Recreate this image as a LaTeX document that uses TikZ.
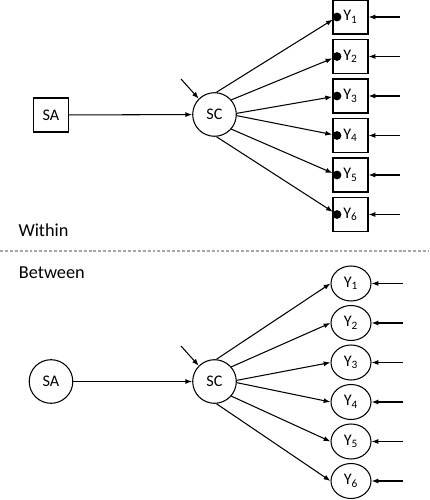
\documentclass[tikz,border=0pt]{standalone}
\usepackage{fontspec}
\setmainfont{Carlito}
\usetikzlibrary{shapes.geometric,arrows.meta,positioning,calc}

\begin{document}
\begin{tikzpicture}[
    line width=0.75pt,
    >={Latex[length=1.7mm,width=1.25mm]},
    obs/.style={draw,rectangle,minimum width=0.875cm,minimum height=0.85cm,inner sep=0pt,font=\fontsize{11.5}{13}\selectfont},
    lat/.style={draw,circle,minimum size=1.09cm,inner sep=0pt,font=\fontsize{11.5}{13}\selectfont},
    ind/.style={draw,ellipse,minimum width=1cm,minimum height=0.875cm,inner sep=0pt,font=\fontsize{11.5}{13}\selectfont},
    dot/.style={circle,fill,inner sep=0pt,minimum size=0.22cm},
    lvl/.style={font=\fontsize{13}{15}\selectfont,anchor=base west,inner sep=0pt}
]
\useasboundingbox (0,0) rectangle (10.725,12.5);

% Within
\node[obs] (saW) at (1.275,9.625) {SA};
\node[lat] (scW) at (5.3625,9.6375) {SC};
\coordinate (dW) at (4.525,10.525);
\draw[->] (saW) -- (scW);
\draw[->] (dW) -- (scW.135);
\foreach \i/\a in {1/85,2/41,3/3,4/-3,5/-41,6/-85} {
    \node[obs] (yW\i) at (8.7625,{12.075-0.9875*(\i-1)}) {Y\textsubscript{\i}};
    \node[dot,anchor=west] (pW\i) at ([xshift=-0.01cm]yW\i.west) {};
    \coordinate (eW\i) at (10,{12.075-0.9875*(\i-1)});
    \draw[->] (scW.\a) -- (pW\i);
    \draw[->] (eW\i) -- (yW\i);
}

% Divider
\draw[gray!70,line width=1pt,dash pattern=on 2.1pt off 1.4pt] (0,6.225) -- (10.725,6.225);
\node[lvl] (within) at (0.45,6.58) {Within};
\node[lvl] (between) at (0.46,5.54) {Between};

% Between
\node[lat] (saB) at (1.275,2.9625) {SA};
\node[lat] (scB) at (5.3625,2.9625) {SC};
\coordinate (dB) at (4.525,3.85);
\draw[->] (saB) -- (scB);
\draw[->] (dB) -- (scB.135);
\foreach \i/\a in {1/85,2/41,3/3,4/-3,5/-41,6/-85} {
    \node[ind] (yB\i) at (8.775,{5.4125-0.9875*(\i-1)}) {Y\textsubscript{\i}};
    \coordinate (eB\i) at (10.075,{5.4125-0.9875*(\i-1)});
    \draw[->] (scB.\a) -- (yB\i.west);
    \draw[->] (eB\i) -- (yB\i);
}
\end{tikzpicture}
\end{document}
